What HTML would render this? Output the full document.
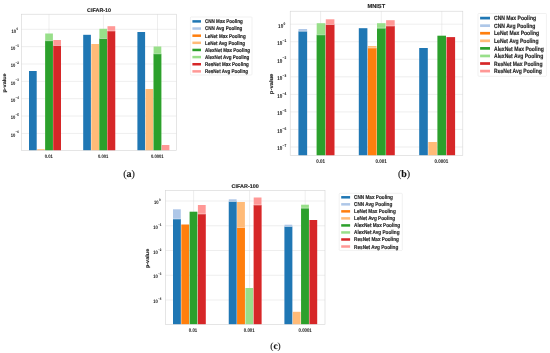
<!DOCTYPE html>
<html lang="en"><head><meta charset="utf-8"><title>p-value bar charts</title>
<style>
html,body{margin:0;padding:0;background:#fff;}
svg{display:block;}
text{text-rendering:geometricPrecision;font-family:"Liberation Sans",Arial,sans-serif;font-weight:bold;fill:#262626;stroke:#262626;stroke-width:0.14px;}
.tk{stroke-width:0.05px;}
.cap{stroke:#111;stroke-width:0.12px;font-family:"Liberation Serif","Times New Roman",serif;font-weight:normal;fill:#111;}
.cap tspan{font-weight:bold;}
svg{filter:blur(0.3px);}
</style></head><body>
<svg width="550" height="353" viewBox="0 0 550 353">
<rect width="550" height="353" fill="#fff"/>
<g id="chart-a">
<line x1="21.5" x2="176.4" y1="29.3" y2="29.3" stroke="#dcdcdc" stroke-width="0.5"/>
<line x1="21.5" x2="176.4" y1="46.65" y2="46.65" stroke="#dcdcdc" stroke-width="0.5"/>
<line x1="21.5" x2="176.4" y1="64" y2="64" stroke="#dcdcdc" stroke-width="0.5"/>
<line x1="21.5" x2="176.4" y1="81.35" y2="81.35" stroke="#dcdcdc" stroke-width="0.5"/>
<line x1="21.5" x2="176.4" y1="98.7" y2="98.7" stroke="#dcdcdc" stroke-width="0.5"/>
<line x1="21.5" x2="176.4" y1="116.05" y2="116.05" stroke="#dcdcdc" stroke-width="0.5"/>
<line x1="21.5" x2="176.4" y1="133.4" y2="133.4" stroke="#dcdcdc" stroke-width="0.5"/>
<line x1="49" x2="49" y1="14.2" y2="150.4" stroke="#dcdcdc" stroke-width="0.5"/>
<line x1="103.4" x2="103.4" y1="14.2" y2="150.4" stroke="#dcdcdc" stroke-width="0.5"/>
<line x1="157.5" x2="157.5" y1="14.2" y2="150.4" stroke="#dcdcdc" stroke-width="0.5"/>
<rect x="29" y="71" width="7.7" height="79.4" fill="#1f77b4"/>
<rect x="37.1" y="149.2" width="7.7" height="1.2" fill="#ffbb78"/>
<rect x="45.2" y="33.5" width="7.7" height="116.9" fill="#98df8a"/>
<rect x="45.2" y="40.7" width="7.7" height="109.7" fill="#2ca02c"/>
<line x1="45.2" x2="52.9" y1="40.7" y2="40.7" stroke="#fff" stroke-opacity="0.9" stroke-width="0.5"/>
<rect x="53.3" y="40" width="7.7" height="110.4" fill="#ff9896"/>
<rect x="53.3" y="45.5" width="7.7" height="104.9" fill="#d62728"/>
<line x1="53.3" x2="61" y1="45.5" y2="45.5" stroke="#fff" stroke-opacity="0.9" stroke-width="0.5"/>
<rect x="83.2" y="34.8" width="7.7" height="115.6" fill="#1f77b4"/>
<rect x="91.3" y="44" width="7.7" height="106.4" fill="#ffbb78"/>
<rect x="99.4" y="28.8" width="7.7" height="121.6" fill="#98df8a"/>
<rect x="99.4" y="38.5" width="7.7" height="111.9" fill="#2ca02c"/>
<line x1="99.4" x2="107.1" y1="38.5" y2="38.5" stroke="#fff" stroke-opacity="0.9" stroke-width="0.5"/>
<rect x="107.5" y="26.2" width="7.7" height="124.2" fill="#ff9896"/>
<rect x="107.5" y="31" width="7.7" height="119.4" fill="#d62728"/>
<line x1="107.5" x2="115.2" y1="31" y2="31" stroke="#fff" stroke-opacity="0.9" stroke-width="0.5"/>
<rect x="137.4" y="32" width="7.7" height="118.4" fill="#1f77b4"/>
<rect x="145.5" y="89" width="7.7" height="61.4" fill="#ffbb78"/>
<rect x="153.6" y="46.5" width="7.7" height="103.9" fill="#98df8a"/>
<rect x="153.6" y="53.8" width="7.7" height="96.6" fill="#2ca02c"/>
<line x1="153.6" x2="161.3" y1="53.8" y2="53.8" stroke="#fff" stroke-opacity="0.9" stroke-width="0.5"/>
<rect x="161.7" y="145" width="7.7" height="5.4" fill="#ff9896"/>
<rect x="21.5" y="14.2" width="154.9" height="136.2" fill="none" stroke="#d4d4d4" stroke-width="0.6"/>
<text x="99.1" y="11.9" font-size="5.4" text-anchor="middle">CIFAR-10</text>
<text class="tk" transform="translate(48.7 157.66) scale(1 1.2)" font-size="4.1" text-anchor="middle">0.01</text>
<text class="tk" transform="translate(103.1 157.66) scale(1 1.2)" font-size="4.1" text-anchor="middle">0.001</text>
<text class="tk" transform="translate(157.3 157.66) scale(1 1.2)" font-size="4.1" text-anchor="middle">0.0001</text>
<text class="tk" transform="translate(16.1 32.76) scale(1 1.2)" font-size="4.1" text-anchor="end">10</text>
<text class="tk" transform="translate(16.4 29.65) scale(1 1.2)" font-size="2.9" text-anchor="start">0</text>
<text class="tk" transform="translate(15.2 49.81) scale(1 1.2)" font-size="4.1" text-anchor="end">10</text>
<text class="tk" transform="translate(15.5 46.7) scale(1 1.2)" font-size="2.9" text-anchor="start">−1</text>
<text class="tk" transform="translate(15.2 67.16) scale(1 1.2)" font-size="4.1" text-anchor="end">10</text>
<text class="tk" transform="translate(15.5 64.05) scale(1 1.2)" font-size="2.9" text-anchor="start">−2</text>
<text class="tk" transform="translate(15.2 84.51) scale(1 1.2)" font-size="4.1" text-anchor="end">10</text>
<text class="tk" transform="translate(15.5 81.4) scale(1 1.2)" font-size="2.9" text-anchor="start">−3</text>
<text class="tk" transform="translate(15.2 101.86) scale(1 1.2)" font-size="4.1" text-anchor="end">10</text>
<text class="tk" transform="translate(15.5 98.75) scale(1 1.2)" font-size="2.9" text-anchor="start">−4</text>
<text class="tk" transform="translate(15.2 119.21) scale(1 1.2)" font-size="4.1" text-anchor="end">10</text>
<text class="tk" transform="translate(15.5 116.1) scale(1 1.2)" font-size="2.9" text-anchor="start">−5</text>
<text class="tk" transform="translate(15.2 136.56) scale(1 1.2)" font-size="4.1" text-anchor="end">10</text>
<text class="tk" transform="translate(15.5 133.45) scale(1 1.2)" font-size="2.9" text-anchor="start">−6</text>
<text transform="translate(5.87 83) rotate(-90) scale(1.03 0.92)" font-size="5.3" text-anchor="middle">p-value</text>
<rect x="190.4" y="17" width="61.6" height="58" rx="0.8" fill="#fff" stroke="#e2e2e2" stroke-width="0.5"/>
<rect x="192.4" y="20.15" width="8.6" height="2.5" fill="#1f77b4"/><text transform="translate(205 23.35) scale(1 1.2)" font-size="4.55" text-anchor="start">CNN Max Pooling</text>
<rect x="192.4" y="27.29" width="8.6" height="2.5" fill="#aec7e8"/><text transform="translate(205 30.49) scale(1 1.2)" font-size="4.55" text-anchor="start">CNN Avg Pooling</text>
<rect x="192.4" y="34.43" width="8.6" height="2.5" fill="#ff7f0e"/><text transform="translate(205 37.63) scale(1 1.2)" font-size="4.55" text-anchor="start">LeNet Max Pooling</text>
<rect x="192.4" y="41.57" width="8.6" height="2.5" fill="#ffbb78"/><text transform="translate(205 44.77) scale(1 1.2)" font-size="4.55" text-anchor="start">LeNet Avg Pooling</text>
<rect x="192.4" y="48.71" width="8.6" height="2.5" fill="#2ca02c"/><text transform="translate(205 51.91) scale(1 1.2)" font-size="4.55" text-anchor="start">AlexNet Max Pooling</text>
<rect x="192.4" y="55.85" width="8.6" height="2.5" fill="#98df8a"/><text transform="translate(205 59.05) scale(1 1.2)" font-size="4.55" text-anchor="start">AlexNet Avg Pooling</text>
<rect x="192.4" y="62.99" width="8.6" height="2.5" fill="#d62728"/><text transform="translate(205 66.19) scale(1 1.2)" font-size="4.55" text-anchor="start">ResNet Max Pooling</text>
<rect x="192.4" y="70.13" width="8.6" height="2.5" fill="#ff9896"/><text transform="translate(205 73.33) scale(1 1.2)" font-size="4.55" text-anchor="start">ResNet Avg Pooling</text>
<text class="cap" x="129.1" y="177" font-size="10" text-anchor="middle">(<tspan>a</tspan>)</text>
</g>
<g id="chart-b">
<line x1="290.2" x2="462.8" y1="24.2" y2="24.2" stroke="#dcdcdc" stroke-width="0.5"/>
<line x1="290.2" x2="462.8" y1="41.74" y2="41.74" stroke="#dcdcdc" stroke-width="0.5"/>
<line x1="290.2" x2="462.8" y1="59.28" y2="59.28" stroke="#dcdcdc" stroke-width="0.5"/>
<line x1="290.2" x2="462.8" y1="76.82" y2="76.82" stroke="#dcdcdc" stroke-width="0.5"/>
<line x1="290.2" x2="462.8" y1="94.36" y2="94.36" stroke="#dcdcdc" stroke-width="0.5"/>
<line x1="290.2" x2="462.8" y1="111.9" y2="111.9" stroke="#dcdcdc" stroke-width="0.5"/>
<line x1="290.2" x2="462.8" y1="129.44" y2="129.44" stroke="#dcdcdc" stroke-width="0.5"/>
<line x1="290.2" x2="462.8" y1="146.98" y2="146.98" stroke="#dcdcdc" stroke-width="0.5"/>
<line x1="320.6" x2="320.6" y1="11.2" y2="155.4" stroke="#dcdcdc" stroke-width="0.5"/>
<line x1="381.3" x2="381.3" y1="11.2" y2="155.4" stroke="#dcdcdc" stroke-width="0.5"/>
<line x1="441.8" x2="441.8" y1="11.2" y2="155.4" stroke="#dcdcdc" stroke-width="0.5"/>
<rect x="298.5" y="29" width="8.6" height="126.4" fill="#aec7e8"/>
<rect x="298.5" y="31.3" width="8.6" height="124.1" fill="#1f77b4"/>
<line x1="298.5" x2="307.1" y1="31.3" y2="31.3" stroke="#fff" stroke-opacity="0.9" stroke-width="0.5"/>
<rect x="316.7" y="23.2" width="8.6" height="132.2" fill="#98df8a"/>
<rect x="316.7" y="34.8" width="8.6" height="120.6" fill="#2ca02c"/>
<line x1="316.7" x2="325.3" y1="34.8" y2="34.8" stroke="#fff" stroke-opacity="0.9" stroke-width="0.5"/>
<rect x="325.8" y="19.3" width="8.6" height="136.1" fill="#ff9896"/>
<rect x="325.8" y="24.5" width="8.6" height="130.9" fill="#d62728"/>
<line x1="325.8" x2="334.4" y1="24.5" y2="24.5" stroke="#fff" stroke-opacity="0.9" stroke-width="0.5"/>
<rect x="358.8" y="28.2" width="8.6" height="127.2" fill="#1f77b4"/>
<rect x="367.9" y="46" width="8.6" height="109.4" fill="#ffbb78"/>
<rect x="367.9" y="48" width="8.6" height="107.4" fill="#ff7f0e"/>
<line x1="367.9" x2="376.5" y1="48" y2="48" stroke="#fff" stroke-opacity="0.9" stroke-width="0.5"/>
<rect x="377" y="23.2" width="8.6" height="132.2" fill="#98df8a"/>
<rect x="377" y="28.2" width="8.6" height="127.2" fill="#2ca02c"/>
<line x1="377" x2="385.6" y1="28.2" y2="28.2" stroke="#fff" stroke-opacity="0.9" stroke-width="0.5"/>
<rect x="386.1" y="20.2" width="8.6" height="135.2" fill="#ff9896"/>
<rect x="386.1" y="26" width="8.6" height="129.4" fill="#d62728"/>
<line x1="386.1" x2="394.7" y1="26" y2="26" stroke="#fff" stroke-opacity="0.9" stroke-width="0.5"/>
<rect x="419.2" y="48" width="8.6" height="107.4" fill="#1f77b4"/>
<rect x="428.3" y="142" width="8.6" height="13.4" fill="#ffbb78"/>
<rect x="437.4" y="35.7" width="8.6" height="119.7" fill="#2ca02c"/>
<rect x="446.5" y="37.1" width="8.6" height="118.3" fill="#d62728"/>
<rect x="290.2" y="11.2" width="172.6" height="144.2" fill="none" stroke="#d4d4d4" stroke-width="0.6"/>
<text x="376.3" y="8" font-size="5.7" text-anchor="middle">MNIST</text>
<text class="tk" transform="translate(320.6 163.03) scale(1 1.2)" font-size="4.5" text-anchor="middle">0.01</text>
<text class="tk" transform="translate(381.2 163.03) scale(1 1.2)" font-size="4.5" text-anchor="middle">0.001</text>
<text class="tk" transform="translate(441.4 163.03) scale(1 1.2)" font-size="4.5" text-anchor="middle">0.0001</text>
<text class="tk" transform="translate(283.2 27.88) scale(1 1.2)" font-size="4.6" text-anchor="end">10</text>
<text class="tk" transform="translate(283.5 24.67) scale(1 1.2)" font-size="3.2" text-anchor="start">0</text>
<text class="tk" transform="translate(282.3 45.12) scale(1 1.2)" font-size="4.6" text-anchor="end">10</text>
<text class="tk" transform="translate(282.6 41.91) scale(1 1.2)" font-size="3.2" text-anchor="start">−1</text>
<text class="tk" transform="translate(282.3 62.66) scale(1 1.2)" font-size="4.6" text-anchor="end">10</text>
<text class="tk" transform="translate(282.6 59.45) scale(1 1.2)" font-size="3.2" text-anchor="start">−2</text>
<text class="tk" transform="translate(282.3 80.2) scale(1 1.2)" font-size="4.6" text-anchor="end">10</text>
<text class="tk" transform="translate(282.6 76.99) scale(1 1.2)" font-size="3.2" text-anchor="start">−3</text>
<text class="tk" transform="translate(282.3 97.74) scale(1 1.2)" font-size="4.6" text-anchor="end">10</text>
<text class="tk" transform="translate(282.6 94.53) scale(1 1.2)" font-size="3.2" text-anchor="start">−4</text>
<text class="tk" transform="translate(282.3 115.28) scale(1 1.2)" font-size="4.6" text-anchor="end">10</text>
<text class="tk" transform="translate(282.6 112.07) scale(1 1.2)" font-size="3.2" text-anchor="start">−5</text>
<text class="tk" transform="translate(282.3 132.82) scale(1 1.2)" font-size="4.6" text-anchor="end">10</text>
<text class="tk" transform="translate(282.6 129.61) scale(1 1.2)" font-size="3.2" text-anchor="start">−6</text>
<text class="tk" transform="translate(282.3 150.36) scale(1 1.2)" font-size="4.6" text-anchor="end">10</text>
<text class="tk" transform="translate(282.6 147.15) scale(1 1.2)" font-size="3.2" text-anchor="start">−7</text>
<text transform="translate(272.97 83.9) rotate(-90) scale(1.03 0.92)" font-size="5.7" text-anchor="middle">p-value</text>
<rect x="478" y="13.5" width="68.4" height="62.8" rx="0.8" fill="#fff" stroke="#e2e2e2" stroke-width="0.5"/>
<rect x="480.1" y="16.75" width="9.9" height="2.7" fill="#1f77b4"/><text transform="translate(494 20.27) scale(1 1.2)" font-size="5.06" text-anchor="start">CNN Max Pooling</text>
<rect x="480.1" y="24.32" width="9.9" height="2.7" fill="#aec7e8"/><text transform="translate(494 27.84) scale(1 1.2)" font-size="5.06" text-anchor="start">CNN Avg Pooling</text>
<rect x="480.1" y="31.89" width="9.9" height="2.7" fill="#ff7f0e"/><text transform="translate(494 35.41) scale(1 1.2)" font-size="5.06" text-anchor="start">LeNet Max Pooling</text>
<rect x="480.1" y="39.46" width="9.9" height="2.7" fill="#ffbb78"/><text transform="translate(494 42.98) scale(1 1.2)" font-size="5.06" text-anchor="start">LeNet Avg Pooling</text>
<rect x="480.1" y="47.03" width="9.9" height="2.7" fill="#2ca02c"/><text transform="translate(494 50.55) scale(1 1.2)" font-size="5.06" text-anchor="start">AlexNet Max Pooling</text>
<rect x="480.1" y="54.6" width="9.9" height="2.7" fill="#98df8a"/><text transform="translate(494 58.12) scale(1 1.2)" font-size="5.06" text-anchor="start">AlexNet Avg Pooling</text>
<rect x="480.1" y="62.17" width="9.9" height="2.7" fill="#d62728"/><text transform="translate(494 65.69) scale(1 1.2)" font-size="5.06" text-anchor="start">ResNet Max Pooling</text>
<rect x="480.1" y="69.74" width="9.9" height="2.7" fill="#ff9896"/><text transform="translate(494 73.26) scale(1 1.2)" font-size="5.06" text-anchor="start">ResNet Avg Pooling</text>
<text class="cap" x="404" y="177.3" font-size="10" text-anchor="middle">(<tspan>b</tspan>)</text>
</g>
<g id="chart-c">
<line x1="165.3" x2="325" y1="201" y2="201" stroke="#dcdcdc" stroke-width="0.5"/>
<line x1="165.3" x2="325" y1="225.75" y2="225.75" stroke="#dcdcdc" stroke-width="0.5"/>
<line x1="165.3" x2="325" y1="250.5" y2="250.5" stroke="#dcdcdc" stroke-width="0.5"/>
<line x1="165.3" x2="325" y1="275.25" y2="275.25" stroke="#dcdcdc" stroke-width="0.5"/>
<line x1="165.3" x2="325" y1="300" y2="300" stroke="#dcdcdc" stroke-width="0.5"/>
<line x1="193.6" x2="193.6" y1="190.5" y2="324.3" stroke="#dcdcdc" stroke-width="0.5"/>
<line x1="249.6" x2="249.6" y1="190.5" y2="324.3" stroke="#dcdcdc" stroke-width="0.5"/>
<line x1="305.2" x2="305.2" y1="190.5" y2="324.3" stroke="#dcdcdc" stroke-width="0.5"/>
<rect x="173" y="209.3" width="7.8" height="115" fill="#aec7e8"/>
<rect x="173" y="219" width="7.8" height="105.3" fill="#1f77b4"/>
<line x1="173" x2="180.8" y1="219" y2="219" stroke="#fff" stroke-opacity="0.9" stroke-width="0.5"/>
<rect x="181.3" y="224.5" width="7.8" height="99.8" fill="#ff7f0e"/>
<rect x="189.6" y="211.7" width="7.8" height="112.6" fill="#2ca02c"/>
<rect x="197.9" y="205" width="7.8" height="119.3" fill="#ff9896"/>
<rect x="197.9" y="214" width="7.8" height="110.3" fill="#d62728"/>
<line x1="197.9" x2="205.7" y1="214" y2="214" stroke="#fff" stroke-opacity="0.9" stroke-width="0.5"/>
<rect x="228.8" y="199.3" width="7.8" height="125" fill="#aec7e8"/>
<rect x="228.8" y="201.5" width="7.8" height="122.8" fill="#1f77b4"/>
<line x1="228.8" x2="236.6" y1="201.5" y2="201.5" stroke="#fff" stroke-opacity="0.9" stroke-width="0.5"/>
<rect x="237.1" y="202" width="7.8" height="122.3" fill="#ffbb78"/>
<rect x="237.1" y="227.5" width="7.8" height="96.8" fill="#ff7f0e"/>
<line x1="237.1" x2="244.9" y1="227.5" y2="227.5" stroke="#fff" stroke-opacity="0.9" stroke-width="0.5"/>
<rect x="245.4" y="288" width="7.8" height="36.3" fill="#98df8a"/>
<rect x="253.7" y="197.5" width="7.8" height="126.8" fill="#ff9896"/>
<rect x="253.7" y="205" width="7.8" height="119.3" fill="#d62728"/>
<line x1="253.7" x2="261.5" y1="205" y2="205" stroke="#fff" stroke-opacity="0.9" stroke-width="0.5"/>
<rect x="284.5" y="224.7" width="7.8" height="99.6" fill="#aec7e8"/>
<rect x="284.5" y="226.5" width="7.8" height="97.8" fill="#1f77b4"/>
<line x1="284.5" x2="292.3" y1="226.5" y2="226.5" stroke="#fff" stroke-opacity="0.9" stroke-width="0.5"/>
<rect x="292.8" y="311.8" width="7.8" height="12.5" fill="#ffbb78"/>
<rect x="301.1" y="204.7" width="7.8" height="119.6" fill="#98df8a"/>
<rect x="301.1" y="208.2" width="7.8" height="116.1" fill="#2ca02c"/>
<line x1="301.1" x2="308.9" y1="208.2" y2="208.2" stroke="#fff" stroke-opacity="0.9" stroke-width="0.5"/>
<rect x="309.4" y="220" width="7.8" height="104.3" fill="#d62728"/>
<rect x="165.3" y="190.5" width="159.7" height="133.8" fill="none" stroke="#d4d4d4" stroke-width="0.6"/>
<text x="245.2" y="188" font-size="5.44" text-anchor="middle">CIFAR-100</text>
<text class="tk" transform="translate(193 331.75) scale(1 1.2)" font-size="4.3" text-anchor="middle">0.01</text>
<text class="tk" transform="translate(249.2 331.75) scale(1 1.2)" font-size="4.3" text-anchor="middle">0.001</text>
<text class="tk" transform="translate(305.2 331.75) scale(1 1.2)" font-size="4.3" text-anchor="middle">0.0001</text>
<text class="tk" transform="translate(158.6 204.46) scale(1 1.2)" font-size="4.1" text-anchor="end">10</text>
<text class="tk" transform="translate(158.9 201.35) scale(1 1.2)" font-size="2.9" text-anchor="start">0</text>
<text class="tk" transform="translate(157.7 228.91) scale(1 1.2)" font-size="4.1" text-anchor="end">10</text>
<text class="tk" transform="translate(158 225.8) scale(1 1.2)" font-size="2.9" text-anchor="start">−1</text>
<text class="tk" transform="translate(157.7 253.66) scale(1 1.2)" font-size="4.1" text-anchor="end">10</text>
<text class="tk" transform="translate(158 250.55) scale(1 1.2)" font-size="2.9" text-anchor="start">−2</text>
<text class="tk" transform="translate(157.7 278.41) scale(1 1.2)" font-size="4.1" text-anchor="end">10</text>
<text class="tk" transform="translate(158 275.3) scale(1 1.2)" font-size="2.9" text-anchor="start">−3</text>
<text class="tk" transform="translate(157.7 303.16) scale(1 1.2)" font-size="4.1" text-anchor="end">10</text>
<text class="tk" transform="translate(158 300.05) scale(1 1.2)" font-size="2.9" text-anchor="start">−4</text>
<text transform="translate(149.09 258.4) rotate(-90) scale(1.03 0.92)" font-size="5.4" text-anchor="middle">p-value</text>
<rect x="339.2" y="193.3" width="63.1" height="57.1" rx="0.8" fill="#fff" stroke="#e2e2e2" stroke-width="0.5"/>
<rect x="341.2" y="196.05" width="8.9" height="2.5" fill="#1f77b4"/><text transform="translate(354.1 199.31) scale(1 1.2)" font-size="4.67" text-anchor="start">CNN Max Pooling</text>
<rect x="341.2" y="203.08" width="8.9" height="2.5" fill="#aec7e8"/><text transform="translate(354.1 206.34) scale(1 1.2)" font-size="4.67" text-anchor="start">CNN Avg Pooling</text>
<rect x="341.2" y="210.11" width="8.9" height="2.5" fill="#ff7f0e"/><text transform="translate(354.1 213.37) scale(1 1.2)" font-size="4.67" text-anchor="start">LeNet Max Pooling</text>
<rect x="341.2" y="217.14" width="8.9" height="2.5" fill="#ffbb78"/><text transform="translate(354.1 220.4) scale(1 1.2)" font-size="4.67" text-anchor="start">LeNet Avg Pooling</text>
<rect x="341.2" y="224.17" width="8.9" height="2.5" fill="#2ca02c"/><text transform="translate(354.1 227.43) scale(1 1.2)" font-size="4.67" text-anchor="start">AlexNet Max Pooling</text>
<rect x="341.2" y="231.2" width="8.9" height="2.5" fill="#98df8a"/><text transform="translate(354.1 234.46) scale(1 1.2)" font-size="4.67" text-anchor="start">AlexNet Avg Pooling</text>
<rect x="341.2" y="238.23" width="8.9" height="2.5" fill="#d62728"/><text transform="translate(354.1 241.49) scale(1 1.2)" font-size="4.67" text-anchor="start">ResNet Max Pooling</text>
<rect x="341.2" y="245.26" width="8.9" height="2.5" fill="#ff9896"/><text transform="translate(354.1 248.52) scale(1 1.2)" font-size="4.67" text-anchor="start">ResNet Avg Pooling</text>
<text class="cap" x="275.5" y="348.5" font-size="9.4" text-anchor="middle">(<tspan>c</tspan>)</text>
</g>
</svg>
</body></html>
